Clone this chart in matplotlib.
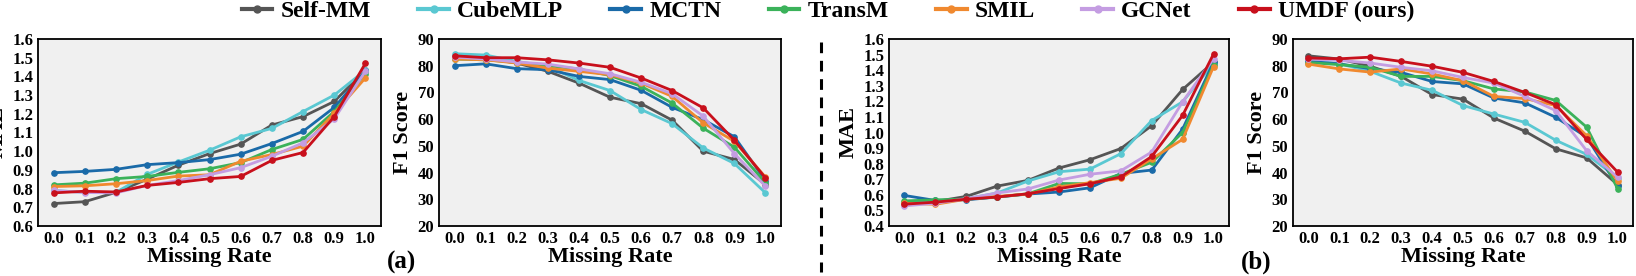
#Missing-rate robustness chart: MAE and F1 score for 7 methods, two settings (a) and (b)

import numpy as np
import matplotlib
matplotlib.use("Agg")
from matplotlib import pyplot as plt
from matplotlib.lines import Line2D

plt.rcParams['font.family'] = ['Liberation Serif', 'DejaVu Serif']
plt.rcParams['font.weight'] = 'bold'

#data
rates = [0.0, 0.1, 0.2, 0.3, 0.4, 0.5, 0.6, 0.7, 0.8, 0.9, 1.0]
methods = ['Self-MM', 'CubeMLP', 'MCTN', 'TransM', 'SMIL', 'GCNet', 'UMDF (ours)']
colors = ['#555555', '#5ac8d2', '#1a6aa8', '#3bb25a', '#f0892f', '#c49de2', '#c8101c']

#(a) MAE
mae_a = [
    [0.72, 0.73, 0.78, 0.85, 0.925, 0.987, 1.038, 1.14, 1.185, 1.266, 1.433],
    [0.79, 0.78, 0.78, 0.876, 0.942, 1.005, 1.077, 1.122, 1.212, 1.30, 1.433],
    [0.885, 0.892, 0.903, 0.928, 0.939, 0.955, 0.984, 1.041, 1.106, 1.234, 1.428],
    [0.82, 0.829, 0.853, 0.865, 0.887, 0.906, 0.939, 1.009, 1.063, 1.212, 1.415],
    [0.811, 0.815, 0.826, 0.843, 0.867, 0.874, 0.946, 0.982, 1.027, 1.203, 1.392],
    [0.79, 0.779, 0.777, 0.817, 0.843, 0.874, 0.912, 0.973, 1.045, 1.173, 1.428],
    [0.777, 0.786, 0.782, 0.817, 0.833, 0.853, 0.865, 0.951, 0.993, 1.185, 1.47],
]
#(a) F1
f1_a = [
    [83.7, 82.9, 81.0, 77.9, 73.5, 68.2, 65.8, 59.6, 48.0, 44.9, 35.5],
    [84.5, 84.0, 81.6, 79.8, 74.5, 70.7, 63.6, 58.3, 49.2, 43.4, 32.4],
    [80.0, 80.7, 78.9, 78.5, 76.0, 74.8, 70.8, 64.4, 59.8, 53.4, 37.0],
    [82.5, 82.2, 81.2, 80.0, 78.8, 76.3, 72.3, 66.0, 56.6, 49.5, 36.2],
    [82.5, 82.2, 81.0, 79.1, 77.9, 76.6, 73.5, 68.5, 58.6, 51.7, 38.3],
    [83.2, 82.5, 81.4, 80.6, 78.8, 77.0, 73.8, 69.5, 61.1, 47.1, 34.9],
    [83.7, 83.0, 83.0, 82.2, 81.0, 79.4, 75.4, 70.7, 64.2, 52.1, 38.0],
]
#(b) MAE
mae_b = [
    [0.55, 0.557, 0.59, 0.656, 0.693, 0.772, 0.825, 0.897, 1.044, 1.276, 1.452],
    [0.546, 0.557, 0.575, 0.612, 0.689, 0.748, 0.765, 0.864, 1.077, 1.197, 1.445],
    [0.596, 0.564, 0.568, 0.586, 0.605, 0.618, 0.645, 0.737, 0.759, 1.022, 1.452],
    [0.561, 0.568, 0.572, 0.586, 0.607, 0.673, 0.671, 0.732, 0.809, 1.0, 1.434],
    [0.546, 0.539, 0.572, 0.59, 0.605, 0.651, 0.678, 0.706, 0.831, 0.956, 1.423],
    [0.529, 0.546, 0.575, 0.612, 0.638, 0.695, 0.732, 0.754, 0.875, 1.197, 1.474],
    [0.54, 0.553, 0.572, 0.586, 0.607, 0.64, 0.671, 0.715, 0.846, 1.11, 1.504],
]
#(b) F1
f1_b = [
    [83.7, 82.5, 79.8, 76.0, 69.2, 67.5, 60.4, 55.5, 48.9, 45.5, 35.5],
    [82.2, 80.7, 77.9, 73.5, 70.8, 65.1, 61.9, 58.8, 52.1, 46.8, 38.0],
    [81.6, 80.7, 78.9, 77.5, 74.1, 73.2, 67.9, 66.1, 60.7, 53.3, 34.9],
    [81.2, 80.4, 79.4, 76.0, 76.0, 74.4, 71.3, 70.2, 67.0, 57.0, 34.0],
    [80.6, 78.8, 77.6, 78.8, 76.9, 74.4, 68.5, 67.7, 65.1, 53.8, 36.8],
    [82.5, 82.0, 81.0, 79.4, 78.1, 75.6, 73.5, 68.5, 63.2, 48.2, 38.3],
    [82.9, 82.6, 83.2, 81.6, 79.8, 77.5, 74.1, 70.0, 65.4, 52.4, 40.2],
]

W, H = 1636, 276
fig = plt.figure(figsize=(W / 100, H / 100), dpi=100)

#axes boxes in pixels: left, right
boxes = [(38, 381), (439, 781), (889, 1229), (1293, 1633)]
top, bottom = 39, 226
panels = [
    (mae_a, 'MAE', (0.6, 1.6), np.arange(0.6, 1.61, 0.1), '%.1f'),
    (f1_a, 'F1 Score', (20, 90), np.arange(20, 91, 10), '%d'),
    (mae_b, 'MAE', (0.4, 1.6), np.arange(0.4, 1.61, 0.1), '%.1f'),
    (f1_b, 'F1 Score', (20, 90), np.arange(20, 91, 10), '%d'),
]

for (l, r), (data, ylab, ylim, yt, fmt) in zip(boxes, panels):
    ax = fig.add_axes([l / W, 1 - bottom / H, (r - l) / W, (bottom - top) / H])
    ax.set_facecolor('#f0f0f0')
    for vals, c, name in zip(data, colors, methods):
        ax.plot(rates, vals, color=c, lw=2.0, marker='o', ms=3.8, label=name)
    ax.set_xlim(-0.05, 1.05)
    ax.set_ylim(*ylim)
    ax.set_xticks(rates)
    ax.set_xticklabels(['%.1f' % x for x in rates])
    ax.set_yticks(yt)
    ax.set_yticklabels([fmt % y for y in yt])
    ax.tick_params(length=0, pad=3.5, labelsize=12)
    for s in ax.spines.values():
        s.set_linewidth(1.3)
    ax.set_xlabel('Missing Rate', fontsize=16, fontweight='bold', labelpad=0)
    ax.set_ylabel(ylab, fontsize=16, fontweight='bold', labelpad=3)

#panel tags
fig.text(402 / W, 1 - 262 / H, '(a)', fontsize=18, fontweight='bold', ha='center', va='center')
fig.text(1256 / W, 1 - 262 / H, '(b)', fontsize=18, fontweight='bold', ha='center', va='center')

#dashed separator
fig.add_artist(Line2D([821 / W, 821 / W], [1 - 42 / H, 1 - 272 / H], color='black',
                      lw=2.2, linestyle=(0, (3.5, 2.5)), transform=fig.transFigure))

handles = [Line2D([], [], color=c, lw=3, marker='o', ms=5) for c in colors]
fig.legend(handles, methods, loc='center', bbox_to_anchor=(828 / W, 1 - 11 / H), ncol=7,
           frameon=False, fontsize=17, handlelength=1.3, handletextpad=0.35,
           columnspacing=2.0, borderpad=0, borderaxespad=0)

fig.savefig('out.png', dpi=100)
